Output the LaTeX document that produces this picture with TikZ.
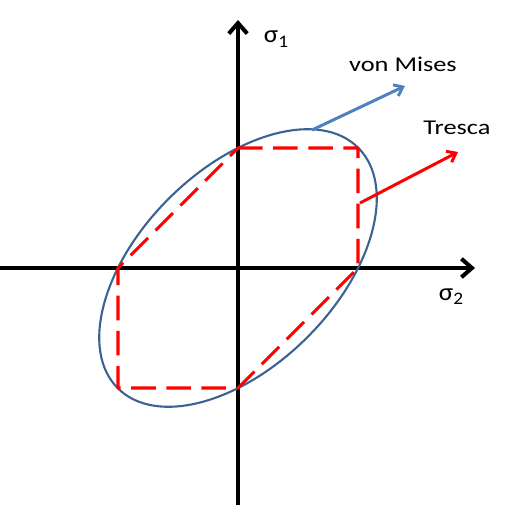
\documentclass[tikz,border=0pt]{standalone}
\usepackage{fontspec}
\setmainfont{Carlito}
\usepackage{xcolor}
\usetikzlibrary{arrows.meta}
\definecolor{vmline}{RGB}{60,98,148}
\definecolor{vmarrow}{RGB}{79,129,189}
\tikzset{
  every picture/.style={line join=round, >=Stealth},
  axis/.style={line width=2.3pt, -{Straight Barb[length=6pt,width=10.5pt]}},
  vonmises/.style={draw=vmline, line width=1.2pt},
  tresca/.style={draw=red, line width=1.8pt, dash pattern=on 14pt off 6pt},
  callout/.style={line width=1.7pt, -{Straight Barb[length=4.5pt,width=7pt]}},
  lbl/.style={inner sep=0pt, xscale=1.25, font=\fontsize{12}{14}\selectfont},
}
\newcommand{\sig}[1]{{\fontsize{14}{14}\selectfont σ}\raisebox{-2.3pt}{\fontsize{10}{10}\selectfont #1}}

\begin{document}
\begin{tikzpicture}[x=0.02cm,y=0.02cm]
\useasboundingbox (-238,-239) rectangle (271,268);
% axes
\coordinate (O) at (0,0);
\coordinate (xl) at (-238,0);
\coordinate (xr) at (237,0);
\coordinate (yb) at (0,-237);
\coordinate (yt) at (0,248);
\draw[axis] (xl) -- (xr);
\draw[axis] (yb) -- (yt);
\node[inner sep=0pt, anchor=base, xscale=1.1] (s1) at (38,225) {\sig{1}};
\node[inner sep=0pt, anchor=base, xscale=1.1] (s2) at (213,-32) {\sig{2}};
% yield surfaces
\draw[vonmises, rotate=45] (O) ellipse (170 and 98);
\draw[tresca] (0,120) -- (120,120) -- (120,0) -- (0,-120) -- (-120,-120) -- (-120,0) -- cycle;
% labels
\node[lbl, anchor=base] (vm) at (165,196) {von Mises};
\node[lbl, anchor=base west] (tr) at (185,133) {Tresca};
\coordinate (vmfrom) at (74,138);
\coordinate (vmto) at (167,182);
\coordinate (trfrom) at (122,65);
\coordinate (trto) at (220,116);
\draw[callout, vmarrow] (vmfrom) -- (vmto);
\draw[callout, red] (trfrom) -- (trto);
\end{tikzpicture}
\end{document}
